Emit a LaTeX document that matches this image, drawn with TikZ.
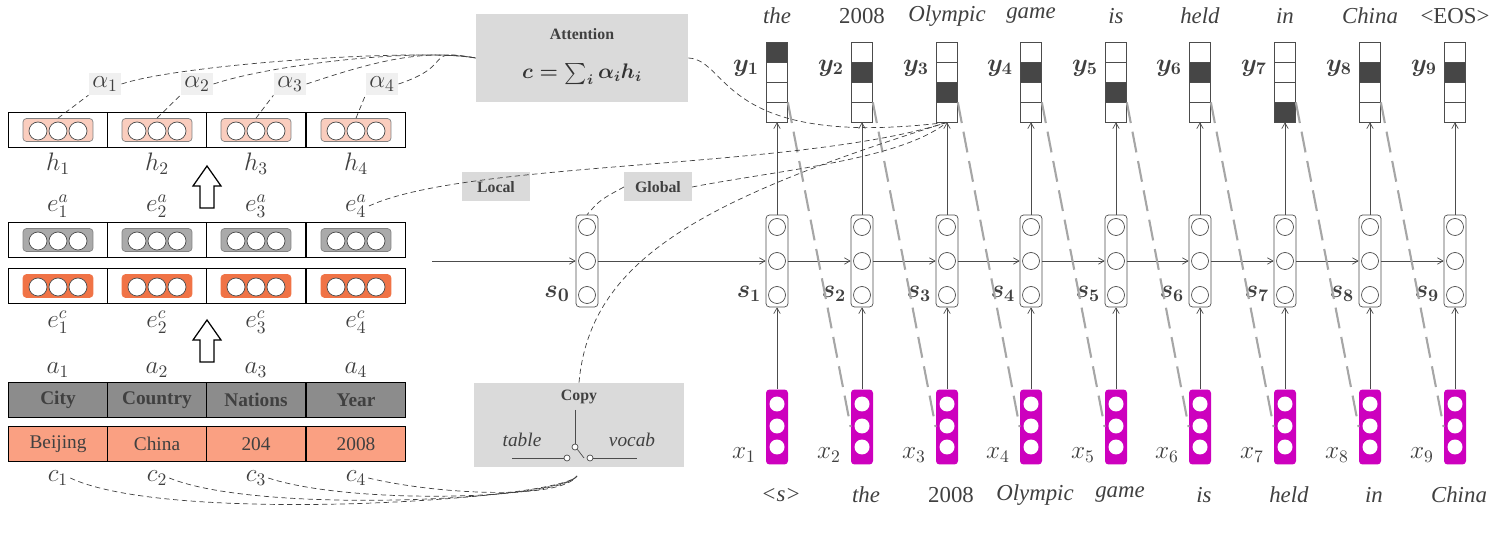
\documentclass[tikz,border=0pt]{standalone}
\usepackage{fontspec}
\setmainfont{Liberation Serif}
\usepackage{amsmath}
\usetikzlibrary{arrows}

\definecolor{hpink}{RGB}{250,205,190}
\definecolor{egray}{RGB}{170,170,170}
\definecolor{eorange}{RGB}{240,115,70}
\definecolor{thead}{RGB}{140,140,140}
\definecolor{tval}{RGB}{250,160,130}
\definecolor{boxgray}{RGB}{218,218,218}
\definecolor{xmag}{RGB}{205,0,190}
\definecolor{ygray}{RGB}{70,70,70}

\tikzset{
  cell/.style={draw, line width=0.8pt, minimum width=1.98cm, minimum height=0.7cm, inner sep=0pt},
  pill/.style={draw=gray, rounded corners=2pt, minimum width=1.4cm, minimum height=0.46cm, inner sep=0pt},
  dot/.style={circle, draw=black!70, fill=white, minimum size=0.36cm, inner sep=0pt},
  lab/.style={font=\fontsize{14}{16}\selectfont, text=black!75, inner sep=1pt},
  alab/.style={fill=black!6, font=\fontsize{14}{16}\selectfont, text=black!75, inner sep=2pt},
  tag/.style={fill=boxgray, font=\fontsize{9}{11}\selectfont\bfseries, text=black!75, minimum width=1.35cm, minimum height=0.58cm},
  att/.style={densely dashed, black!75},
  hollow/.style={draw, line width=0.7pt, fill=white},
  svec/.style={draw=black!70, rounded corners=2pt, minimum width=0.44cm, minimum height=1.84cm, inner sep=0pt},
  sdot/.style={circle, draw=black!70, minimum size=0.34cm, inner sep=0pt},
  xvec/.style={fill=xmag, rounded corners=2pt, minimum width=0.44cm, minimum height=1.5cm, inner sep=0pt},
  ycell/.style={draw=black!70, minimum width=0.42cm, minimum height=0.4cm, inner sep=0pt},
  flow/.style={->, >=angle 60, black!70},
  skip/.style={dash pattern=on 12pt off 5pt, line width=1.2pt, black!35},
  word/.style={font=\fontsize{13}{15}\selectfont, text=black!75, inner sep=1pt},
}

\begin{document}
\begin{tikzpicture}[x=0.02cm, y=-0.02cm]
  \useasboundingbox (0,0) rectangle (1505,533);

  % encoder rows
  \foreach \i/\cx/\ax in {1/58/105, 2/157/197, 3/256/290, 4/356/382}{
    \node[cell] (h\i) at (\cx,130) {};
    \node[pill, fill=hpink] (hp\i) at (\cx,130) {};
    \node[cell] (ea\i) at (\cx,240) {};
    \node[pill, fill=egray] (eap\i) at (\cx,240) {};
    \node[cell] (ec\i) at (\cx,286) {};
    \node[pill, fill=eorange, draw=eorange] (ecp\i) at (\cx,286) {};
    \foreach \d in {-20,0,20}{
      \node[dot] at (\cx+\d,131) {};
      \node[dot] at (\cx+\d,241) {};
      \node[dot] at (\cx+\d,287) {};
    }
    \node[lab] (hl\i) at (\cx,164) {$h_{\i}$};
    \node[lab] (eal\i) at (\cx,206) {$e_{\i}^{a}$};
    \node[lab] (ecl\i) at (\cx,322) {$e_{\i}^{c}$};
    \node[alab] (al\i) at (\ax,84) {$\alpha_{\i}$};
    \draw[att] (hp\i.north) -- (al\i.south west);
    \node[lab] (a\i) at (\cx,370) {$a_{\i}$};
    \node[lab] (c\i) at (\cx,478) {$c_{\i}$};
  }

  % table
  \foreach \i/\cx/\k/\v in {1/58/City/Beijing, 2/157/Country/China, 3/256/Nations/204, 4/356/Year/2008}{
    \node[cell, fill=thead, font=\fontsize{11}{13}\selectfont\bfseries, text=black!75] (k\i) at (\cx,400) {\k};
    \node[cell, fill=tval, font=\fontsize{11}{13}\selectfont, text=black!75] (v\i) at (\cx,444) {\v};
  }

  % hollow arrows
  \draw[hollow] (200,208) -- (200,186) -- (193,186) -- (207,166) -- (221,186) -- (214,186) -- (214,208) -- cycle;
  \draw[hollow] (200,362) -- (200,340) -- (193,340) -- (207,320) -- (221,340) -- (214,340) -- (214,362) -- cycle;

  % attention, copy, local, global
  \node[fill=boxgray, minimum width=4.24cm, minimum height=1.76cm] (att) at (582,58) {};
  \node[font=\fontsize{9}{11}\selectfont\bfseries, text=black!75] (attt) at (582,34) {Attention};
  \node[font=\fontsize{12}{14}\selectfont, text=black!80] (attf) at (582,74) {$\boldsymbol{c=\sum\nolimits_{i}\alpha_i h_i}$};
  \node[fill=boxgray, minimum width=4.2cm, minimum height=1.68cm] (copy) at (579,425) {};
  \node[font=\fontsize{9}{11}\selectfont\bfseries, text=black!75] (copyt) at (579,397) {Copy};
  \node[font=\fontsize{11}{13}\selectfont\itshape, text=black!75] (tbl) at (522,440) {table};
  \node[font=\fontsize{11}{13}\selectfont\itshape, text=black!75] (voc) at (632,440) {vocab};
  \node[circle, draw=black!70, fill=white, inner sep=0pt, minimum size=0.12cm] (swl) at (567,458) {};
  \node[circle, draw=black!70, fill=white, inner sep=0pt, minimum size=0.12cm] (swr) at (590,458) {};
  \node[circle, draw=black!70, fill=white, inner sep=0pt, minimum size=0.12cm] (swt) at (575,447) {};
  \draw[black!70] (512,458) -- (swl.west);
  \draw[black!70] (swr.east) -- (637,458);
  \draw[black!70] (575,410) -- (swt.north);
  \draw[black!70] (swt.south east) -- (584,458);
  \coordinate (swb) at (577,476);
  \node[tag] (loc) at (496,187) {Local};
  \node[tag] (glob) at (658,187) {Global};

  % decoder
  \node[svec] (s0) at (587,261) {};
  \foreach \yy in {227,261,295} \node[sdot] at (587,\yy) {};
  \node[word, font=\fontsize{15}{17}\selectfont] (s0l) at (557,294) {$\boldsymbol{s_0}$};
  \coordinate (enc) at (432,261);
  \draw[flow] (enc) -- (s0.west);

  \foreach \i/\cx/\f/\tw/\bw [count=\ii from 0] in
      {1/777/1/\textit{the}/\textit{<s>}, 2/862/2/2008/\textit{the}, 3/947/3/\textit{Olympic}/2008,
       4/1031/2/\textit{game}/\textit{Olympic}, 5/1116/3/\textit{is}/\textit{game}, 6/1200/2/\textit{held}/\textit{is},
       7/1285/4/\textit{in}/\textit{held}, 8/1370/2/\textit{China}/\textit{in}, 9/1455/2/<EOS>/\textit{China}}{
    \node[svec] (s\i) at (\cx,261) {};
    \foreach \yy in {227,261,295} \node[sdot] at (\cx,\yy) {};
    \node[word, font=\fontsize{14}{16}\selectfont] (s\i l) at (\cx-28,294) {$\boldsymbol{s_{\i}}$};
    \foreach \r in {1,...,4}{
      \ifnum\r=\f
        \node[ycell, fill=ygray] (y\i c\r) at (\cx,32+20*\r) {};
      \else
        \node[ycell] (y\i c\r) at (\cx,32+20*\r) {};
      \fi
    }
    \node[word, font=\fontsize{14}{16}\selectfont] (y\i l) at (\cx-31,68) {$\boldsymbol{y_{\i}}$};
    \node[word] (tw\i) at (\cx,16) {\tw};
    \node[xvec] (x\i) at (\cx,427) {};
    \foreach \yy in {404,426,447} \node[circle, fill=white, minimum size=0.3cm, inner sep=0pt] at (\cx,\yy) {};
    \node[word, font=\fontsize{14}{16}\selectfont] (x\i l) at (\cx-33,455) {$x_{\i}$};
    \node[word] (bw\i) at (\cx+4,495) {\bw};
    \draw[flow] (s\i.north) -- (y\i c4.south);
    \draw[flow] (x\i.north) -- (s\i.south);
    \draw[flow] (s\ii.east |- s\i.west) -- (s\i.west);
  }
  \foreach \i [count=\j from 2] in {1,...,8}{
    \draw[skip] (y\i c3.south east) -- (x\j.west);
  }

  % attention and copy links
  \foreach \i in {1,...,4}{
    \draw[att] (al\i.east) .. controls +(60,-20) and (420,48) .. (att.west);
    \draw[att] (c\i.east) .. controls (\i*90+80,535-10*\i) and (560,500) .. (swb);
  }
  \draw[att] (att.east) .. controls (730,60) and (720,150) .. (y3c4.south);
  \draw[att] (eal4.east) .. controls (470,160) and (800,170) .. (y3c4.south);
  \draw[att] (glob.east) .. controls (780,170) and (900,160) .. (y3c4.south);
  \draw[att] (glob.west) .. controls (600,200) .. (s0.north);
  \draw[att] (copy.north) .. controls (590,260) and (700,200) .. (y3c4.south);
\end{tikzpicture}
\end{document}
